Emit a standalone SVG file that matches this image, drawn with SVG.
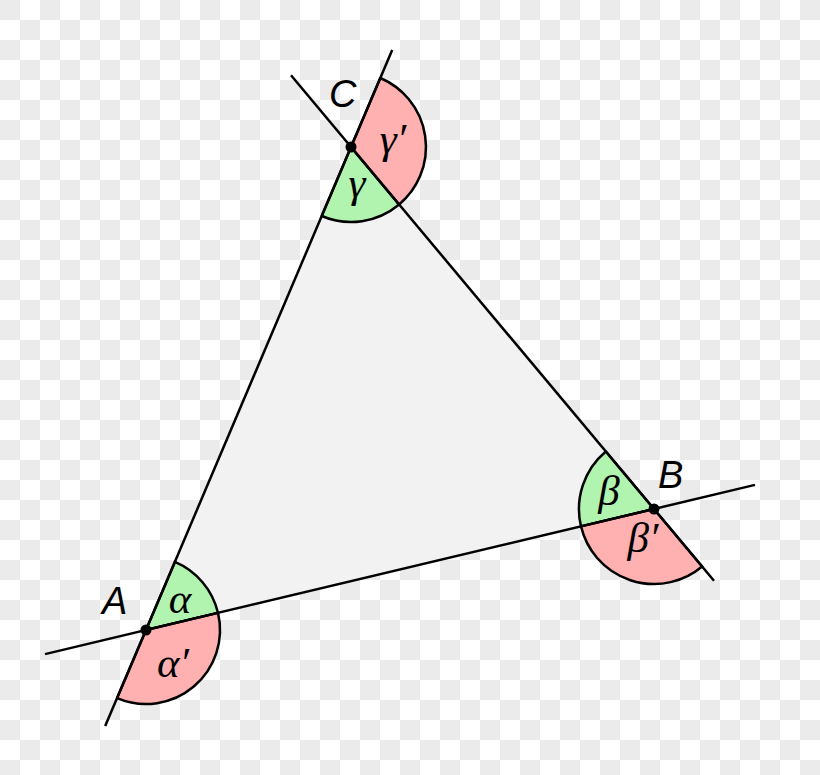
<svg xmlns="http://www.w3.org/2000/svg" width="820" height="775" viewBox="0 0 820 775">
<defs>
<pattern id="checker" x="0" y="0" width="40" height="40" patternUnits="userSpaceOnUse">
<rect x="0" y="0" width="40" height="40" fill="#ffffff"/>
<rect x="0" y="0" width="20" height="20" fill="#ebebeb"/>
<rect x="20" y="20" width="20" height="20" fill="#ebebeb"/>
</pattern>
</defs>
<style>
.line{stroke:#000;stroke-width:2.5;fill:none;stroke-linecap:butt}
.green{fill:#b0f4b0;stroke:#000;stroke-width:2.5;stroke-linejoin:round}
.red{fill:#ffb0b0;stroke:#000;stroke-width:2.5;stroke-linejoin:round}
.dot{fill:#000}
.pt{font-family:"Liberation Sans",Arial,sans-serif;font-style:italic;font-size:38px;fill:#000}
.gk{font-family:"Liberation Serif","Times New Roman",serif;font-style:italic;font-size:43px;fill:#000;text-anchor:middle}
</style>
<rect x="0" y="0" width="820" height="775" fill="url(#checker)"/>
<polygon id="triangle" points="146,630 654,509 351,147" fill="#f2f2f2"/>
<g id="angleA">
<path class="green" d="M146,630 L174.9,561.9 A74,74 0 0 1 218.0,612.85 Z"/>
<path class="red" d="M146,630 L218.0,612.85 A74,74 0 0 1 117.1,698.1 Z"/>
</g>
<g id="angleB">
<path class="green" d="M654,509 L581.0,526.4 A75,75 0 0 1 605.85,451.5 Z"/>
<path class="red" d="M654,509 L702.15,566.5 A75,75 0 0 1 581.0,526.4 Z"/>
</g>
<g id="angleC">
<path class="green" d="M351,147 L399.15,204.5 A75,75 0 0 1 321.7,216.0 Z"/>
<path class="red" d="M351,147 L380.3,78.0 A75,75 0 0 1 399.15,204.5 Z"/>
</g>
<g id="connectors">
<line class="line" x1="45" y1="654.1" x2="755" y2="484.9"/>
<line class="line" x1="291" y1="75.3" x2="714" y2="580.7"/>
<line class="line" x1="105.2" y1="726" x2="392.2" y2="50"/>
</g>
<g id="pointA">
<circle class="dot" cx="146" cy="630" r="5.5"/>
<text class="pt" x="102" y="614">A</text>
</g>
<g id="pointB">
<circle class="dot" cx="654" cy="509" r="5.5"/>
<text class="pt" x="658" y="488">B</text>
</g>
<g id="pointC">
<circle class="dot" cx="351" cy="147" r="5.5"/>
<text class="pt" x="329" y="107">C</text>
</g>
<g id="labels">
<text class="gk" x="180" y="613">α</text>
<text class="gk" x="173" y="677">α′</text>
<text class="gk" x="609" y="505">β</text>
<text class="gk" x="643" y="552">β′</text>
<text class="gk" x="357" y="197">γ</text>
<text class="gk" x="393" y="153">γ′</text>
</g>
</svg>
